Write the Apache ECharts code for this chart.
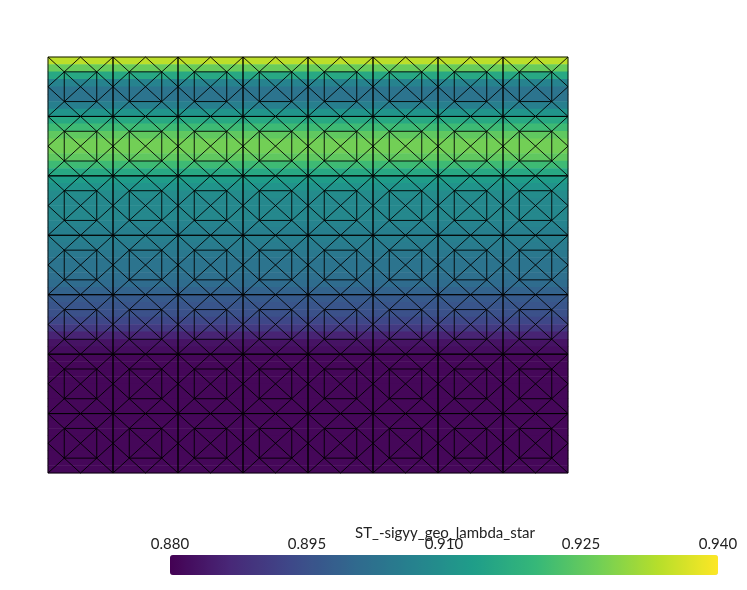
<!DOCTYPE html>
<html><head><meta charset="utf-8">
<script src="https://cdn.jsdelivr.net/npm/echarts@6/dist/echarts.min.js"></script>
<style>html,body{margin:0;background:#fff}#c{width:747px;height:590px}</style></head>
<body><div id="c"></div>
<script>
const meshCols = 8, meshRows = 7;
// field value profile top->bottom, 8 samples per mesh row
const profile = [
0.934,0.926,0.916,0.907,0.903,0.903,0.906,0.911,
0.916,0.921,0.925,0.927,0.927,0.925,0.921,0.916,
0.913,0.911,0.909,0.908,0.908,0.908,0.907,0.906,
0.906,0.905,0.904,0.903,0.903,0.902,0.901,0.899,
0.897,0.896,0.895,0.893,0.890,0.886,0.883,0.882,
0.881,0.881,0.881,0.881,0.881,0.881,0.881,0.881,
0.881,0.881,0.881,0.881,0.881,0.881,0.881,0.881];
const tickLabels = ['0.880','0.895','0.910','0.925','0.940'];
const title = 'ST_-sigyy_geo_lambda_star';
const viridis = ['#440154','#482878','#3e4989','#31688e','#26828e','#1f9e89','#35b779','#6ece58','#b5de2b','#fde725'];

const heat = profile.map((v,i)=>[0,i,v]);
const cells=[];for(let i=0;i<meshCols;i++)for(let j=0;j<meshRows;j++)cells.push([i,j]);
const chart = echarts.init(document.getElementById('c'));
const g = {left:48,top:57,width:520,height:416};
const barL=170, barW=548;
chart.setOption({
  animation:false,
  grid:[Object.assign({},g),Object.assign({},g)],
  xAxis:[{type:'category',data:['a'],show:false,gridIndex:0},{type:'value',min:0,max:meshCols,show:false,gridIndex:1}],
  yAxis:[{type:'category',data:profile.map((_,i)=>i),inverse:true,show:false,gridIndex:0},{type:'value',min:0,max:meshRows,inverse:true,show:false,gridIndex:1}],
  visualMap:{type:'continuous',min:0.88,max:0.94,seriesIndex:0,orient:'horizontal',left:barL-15,top:540,itemWidth:20,itemHeight:barW,calculable:false,showLabel:false,text:null,inRange:{color:viridis}},
  series:[
    {type:'heatmap',data:heat,xAxisIndex:0,yAxisIndex:0,itemStyle:{borderWidth:0}},
    {type:'custom',xAxisIndex:1,yAxisIndex:1,data:cells,
     renderItem:(p,api)=>{
       const i=api.value(0),j=api.value(1);
       const P=(a,b)=>api.coord([i+a,j+b]);
       const seg=(a,b)=>({type:'line',shape:{x1:a[0],y1:a[1],x2:b[0],y2:b[1]},style:{stroke:'#000',lineWidth:0.9}});
       const c=[P(0,0),P(1,0),P(1,1),P(0,1)];
       const m=[P(.5,0),P(1,.5),P(.5,1),P(0,.5)];
       const r=[P(.25,.25),P(.75,.25),P(.75,.75),P(.25,.75)];
       const ch=[];
       for(let k=0;k<4;k++){ch.push(seg(c[k],c[(k+1)%4]));ch.push(seg(m[k],m[(k+1)%4]));ch.push(seg(r[k],r[(k+1)%4]));}
       ch.push(seg(c[0],c[2]));ch.push(seg(c[1],c[3]));
       return {type:'group',children:ch};
     }}
  ],
  graphic:[
    {type:'text',x:445,y:533,style:{text:title,font:'15px Lato',fill:'#222',align:'center',verticalAlign:'middle'}},
    ...tickLabels.map((t,k)=>({type:'text',x:barL+k*barW/4,y:544,style:{text:t,font:'15px Lato',fill:'#222',align:'center',verticalAlign:'middle'}}))
  ]
});
</script></body></html>
